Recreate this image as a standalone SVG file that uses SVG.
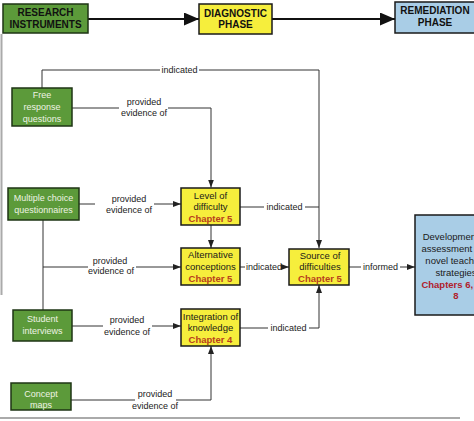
<svg xmlns="http://www.w3.org/2000/svg" width="474" height="421" viewBox="0 0 474 421">
<defs>
<marker id="ah" markerUnits="userSpaceOnUse" markerWidth="8" markerHeight="6" refX="8" refY="3" orient="auto">
<path d="M0,0 L8,3 L0,6 Z" fill="#222"/>
</marker>
<marker id="big" markerUnits="userSpaceOnUse" markerWidth="15" markerHeight="13" refX="15" refY="6.5" orient="auto">
<path d="M0,0 L15,6.5 L0,13 Z" fill="#111"/>
</marker>
</defs>
<style>
text{font-family:"Liberation Sans",Arial,sans-serif;text-anchor:middle}
.green{fill:#5c9a3a;stroke:#1e3415;stroke-width:1.5}
.yellow{fill:#f6ee3c;stroke:#1a1a1a;stroke-width:1.5}
.blue{fill:#a9cde6;stroke:#1a1a1a;stroke-width:1.5}
.head{font-size:10px;font-weight:bold;fill:#111}
.gt{font-size:9px;fill:#eef3e4}
.yt{font-size:9.5px;fill:#1a1a1a}
.ch{font-size:9.5px;font-weight:bold;fill:#b8401c}
.lbl{font-size:9px;fill:#222}
.c{fill:none;stroke:#333;stroke-width:1}
.top{fill:none;stroke:#111;stroke-width:2.2}
</style>
<rect width="474" height="421" fill="#fff"/>
<line x1="1.5" y1="34" x2="1.5" y2="295" stroke="#aaa" stroke-width="2"/>
<line x1="0" y1="418" x2="460" y2="418" stroke="#aaa" stroke-width="2"/>

<g id="connectors">
<path class="top" d="M88,19 H199" marker-end="url(#big)"/>
<path class="top" d="M272,19 H395" marker-end="url(#big)"/>
<path class="c" d="M42,88 V70 H160"/>
<path class="c" d="M199,70 H319 V248" marker-end="url(#ah)"/>
<path class="c" d="M72,108 H119"/>
<path class="c" d="M168,108 H211 V187.5" marker-end="url(#ah)"/>
<path class="c" d="M79,204 H95"/>
<path class="c" d="M154,204 H181" marker-end="url(#ah)"/>
<path class="c" d="M43,220 V310"/>
<path class="c" d="M43,267 H88"/>
<path class="c" d="M136,267 H181" marker-end="url(#ah)"/>
<path class="c" d="M211,225 V248" marker-end="url(#ah)"/>
<path class="c" d="M72,326 H103"/>
<path class="c" d="M152,326 H181" marker-end="url(#ah)"/>
<path class="c" d="M71,400 H135"/>
<path class="c" d="M176,400 H211 V346" marker-end="url(#ah)"/>
<path class="c" d="M240,207 H264"/>
<path class="c" d="M305,207 H319"/>
<path class="c" d="M240,267 H245"/>
<path class="c" d="M283,267 H289" marker-end="url(#ah)"/>
<path class="c" d="M349,267 H361"/>
<path class="c" d="M400,267 H415" marker-end="url(#ah)"/>
<path class="c" d="M240,328 H268"/>
<path class="c" d="M309,328 H319 V285" marker-end="url(#ah)"/>
<text class="lbl" x="179.5" y="73">indicated</text>
<text class="lbl" x="144" y="105">provided</text>
<text class="lbl" x="144" y="116">evidence of</text>
<text class="lbl" x="129" y="202">provided</text>
<text class="lbl" x="129" y="213">evidence of</text>
<text class="lbl" x="110" y="264">provided</text>
<text class="lbl" x="111" y="274">evidence of</text>
<text class="lbl" x="127" y="323">provided</text>
<text class="lbl" x="127" y="335">evidence of</text>
<text class="lbl" x="155" y="397">provided</text>
<text class="lbl" x="155" y="409">evidence of</text>
<text class="lbl" x="284.5" y="210">indicated</text>
<text class="lbl" x="264" y="270">indicated</text>
<text class="lbl" x="380.5" y="270">informed</text>
<text class="lbl" x="288.5" y="331">indicated</text>
</g>

<g id="research-instruments">
<rect class="green" x="3" y="4" width="85" height="29"/>
<text class="head" x="45.5" y="16">RESEARCH</text>
<text class="head" x="45.5" y="28">INSTRUMENTS</text>
</g>
<g id="diagnostic-phase">
<rect class="yellow" x="199" y="4" width="73" height="30"/>
<text class="head" x="235.5" y="16.5">DIAGNOSTIC</text>
<text class="head" x="235.5" y="28">PHASE</text>
</g>
<g id="remediation-phase">
<rect class="blue" x="395" y="2" width="90" height="31"/>
<text class="head" x="435" y="14">REMEDIATION</text>
<text class="head" x="435" y="26">PHASE</text>
</g>
<g id="free-response">
<rect class="green" x="12" y="88" width="60" height="38"/>
<text class="gt" x="42" y="98">Free</text>
<text class="gt" x="42" y="110">response</text>
<text class="gt" x="42" y="122">questions</text>
</g>
<g id="multiple-choice">
<rect class="green" x="8" y="188" width="71" height="32"/>
<text class="gt" x="43.5" y="201">Multiple choice</text>
<text class="gt" x="43.5" y="213">questionnaires</text>
</g>
<g id="student-interviews">
<rect class="green" x="13" y="310" width="59" height="31"/>
<text class="gt" x="42.5" y="322">Student</text>
<text class="gt" x="42.5" y="334">interviews</text>
</g>
<g id="concept-maps">
<rect class="green" x="11" y="383" width="60" height="27"/>
<text class="gt" x="41" y="397">Concept</text>
<text class="gt" x="41" y="408">maps</text>
</g>
<g id="level-of-difficulty">
<rect class="yellow" x="181" y="188" width="59" height="37"/>
<text class="yt" x="210.5" y="198.5">Level of</text>
<text class="yt" x="210.5" y="210">difficulty</text>
<text class="ch" x="210.5" y="222">Chapter 5</text>
</g>
<g id="alternative-conceptions">
<rect class="yellow" x="181" y="248" width="59" height="37"/>
<text class="yt" x="210.5" y="258">Alternative</text>
<text class="yt" x="210.5" y="270">conceptions</text>
<text class="ch" x="210.5" y="281.5">Chapter 5</text>
</g>
<g id="integration-of-knowledge">
<rect class="yellow" x="181" y="309" width="59" height="37"/>
<text class="yt" x="210.5" y="320">Integration of</text>
<text class="yt" x="210.5" y="331">knowledge</text>
<text class="ch" x="210.5" y="342.5">Chapter 4</text>
</g>
<g id="source-of-difficulties">
<rect class="yellow" x="289" y="249" width="60" height="36"/>
<text class="yt" x="320" y="258.5">Source of</text>
<text class="yt" x="320" y="270">difficulties</text>
<text class="ch" x="320" y="281.5">Chapter 5</text>
</g>
<g id="development">
<rect class="blue" x="415" y="215" width="80" height="100"/>
<text class="yt" x="456" y="240">Development of</text>
<text class="yt" x="456" y="252">assessment and</text>
<text class="yt" x="456" y="264">novel teaching</text>
<text class="yt" x="456" y="276">strategies</text>
<text class="ch" x="456" y="287.5" style="fill:#b0202c">Chapters 6, 7 &amp;</text>
<text class="ch" x="456" y="299" style="fill:#b0202c">8</text>
</g>
</svg>
